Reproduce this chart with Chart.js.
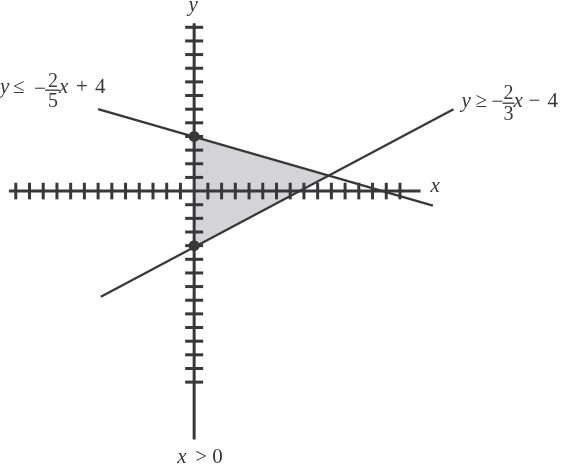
<!DOCTYPE html>
<html>
<head>
<meta charset="utf-8">
<script src="https://cdn.jsdelivr.net/npm/chart.js@4.4.1/dist/chart.umd.min.js"></script>
<style>
  html, body { margin: 0; padding: 0; background: #fff; }
  #wrap { width: 566px; height: 467px; }
</style>
</head>
<body>
<div id="wrap"><canvas id="myChart" width="566" height="467"></canvas></div>
<script>
// tick marks on each axis (one tick per unit)
const xTicks = [-13, -12, -11, -10, -9, -8, -7, -6, -5, -4, -3, -2, -1,
  1, 2, 3, 4, 5, 6, 7, 8, 9, 10, 11, 12, 13, 14, 15]
const yTicks = [-14, -13, -12, -11, -10, -9, -8, -7, -6, -5, -4, -3, -2, -1,
  1, 2, 3, 4, 5, 6, 7, 8, 9, 10, 11, 12]

// axis extents
const xAxisEnds = [-13.5, 16.5]
const yAxisEnds = [-18.2, 12.3]

// y <= -2/5x + 4 (as drawn)
const upperLineX = [-7, 17.4]
const upperLineY = [6, -1.06]
// y >= 2/3x - 4 (as drawn)
const lowerLineX = [-6.8, 18.9]
const lowerLineY = [-7.75, 6.0]

// feasible region
const shadeX = [0, 9.8, 0, 0]
const shadeY = [4, 1.14, -4.1, 4]

// intercept dots
const dotX = [0, 0]
const dotY = [4, -4]

const INK = '#383838'
const SERIF = "'Liberation Serif', 'DejaVu Serif', serif"

const pts = (xs, ys) => xs.map((x, i) => ({ x: x, y: ys[i] }))

function put(ctx, s, x, y, size, italic, align) {
  ctx.font = (italic ? 'italic ' : '') + size + 'px ' + SERIF
  ctx.textAlign = align || 'left'
  ctx.fillText(s, x, y)
}

function bar(ctx, x1, x2, y) {
  ctx.beginPath()
  ctx.moveTo(x1, y)
  ctx.lineTo(x2, y)
  ctx.stroke()
}

const mathLabels = {
  id: 'mathLabels',
  afterDatasetsDraw(chart) {
    const ctx = chart.ctx
    const xs = chart.scales.x, ys = chart.scales.y
    const ox = xs.getPixelForValue(0), oy = ys.getPixelForValue(0)
    ctx.save()
    ctx.fillStyle = INK
    ctx.strokeStyle = INK
    ctx.lineWidth = 1.3
    ctx.textBaseline = 'alphabetic'

    // axis names
    put(ctx, 'y', ox - 1, ys.getPixelForValue(yAxisEnds[1]) - 12, 21, true, 'center')
    put(ctx, 'x', xs.getPixelForValue(xAxisEnds[1]) + 10, oy + 1, 21, true)

    // x > 0 under the y axis
    const bb = ys.getPixelForValue(yAxisEnds[0]) + 24
    put(ctx, 'x', ox - 17, bb, 21, true)
    put(ctx, '>', ox + 1, bb, 21)
    put(ctx, '0', ox + 18, bb, 21)

    // label of the upper line
    let x0 = xs.getPixelForValue(upperLineX[0]) - 98
    let b = ys.getPixelForValue(upperLineY[0]) - 16
    put(ctx, 'y', x0, b, 21, true)
    put(ctx, '≤', x0 + 13, b, 21)
    put(ctx, '−', x0 + 34, b + 2, 21)
    bar(ctx, x0 + 45, x0 + 60, b - 3)
    put(ctx, '2', x0 + 53, b - 6, 20, false, 'center')
    put(ctx, '5', x0 + 53, b + 14, 20, false, 'center')
    put(ctx, 'x', x0 + 59, b, 21, true)
    put(ctx, '+', x0 + 76, b, 21)
    put(ctx, '4', x0 + 95, b, 21)

    // label of the lower line
    x0 = xs.getPixelForValue(lowerLineX[1]) + 8
    b = ys.getPixelForValue(lowerLineY[1]) - 2
    put(ctx, 'y', x0, b, 21, true)
    put(ctx, '≥', x0 + 14, b, 21)
    put(ctx, '−', x0 + 30, b + 1, 21)
    bar(ctx, x0 + 41, x0 + 53, b - 4)
    put(ctx, '2', x0 + 47, b - 8, 20, false, 'center')
    put(ctx, '3', x0 + 47, b + 13, 20, false, 'center')
    put(ctx, 'x', x0 + 52, b, 21, true)
    put(ctx, '−', x0 + 67, b, 21)
    put(ctx, '4', x0 + 86, b, 21)
    ctx.restore()
  }
}

const ctx = document.getElementById('myChart').getContext('2d')
const myChart = new Chart(ctx, {
  type: 'scatter',
  data: {
    datasets: [
      {
        // dots on the y axis
        data: pts(dotX, dotY),
        pointRadius: 5.5,
        pointBackgroundColor: INK,
        pointBorderWidth: 0,
        order: 0
      },
      {
        data: pts(upperLineX, upperLineY),
        showLine: true,
        borderColor: INK,
        borderWidth: 2.3,
        pointRadius: 0,
        order: 1
      },
      {
        data: pts(lowerLineX, lowerLineY),
        showLine: true,
        borderColor: INK,
        borderWidth: 2.3,
        pointRadius: 0,
        order: 1
      },
      {
        // ticks on y axis
        data: yTicks.map(v => ({ x: 0, y: v })),
        pointStyle: 'line',
        pointRadius: 9,
        pointBorderWidth: 3,
        pointBorderColor: INK,
        order: 2
      },
      {
        // ticks on x axis
        data: xTicks.map(v => ({ x: v, y: 0 })),
        pointStyle: 'line',
        pointRotation: 90,
        pointRadius: 8.3,
        pointBorderWidth: 3,
        pointBorderColor: INK,
        order: 2
      },
      {
        data: xAxisEnds.map(v => ({ x: v, y: 0 })),
        showLine: true,
        borderColor: INK,
        borderWidth: 3,
        pointRadius: 0,
        order: 3
      },
      {
        data: yAxisEnds.map(v => ({ x: 0, y: v })),
        showLine: true,
        borderColor: INK,
        borderWidth: 3,
        pointRadius: 0,
        order: 3
      },
      {
        data: pts(shadeX, shadeY),
        showLine: true,
        borderWidth: 0,
        borderColor: 'rgba(0,0,0,0)',
        backgroundColor: '#d4d4d6',
        fill: 'shape',
        pointRadius: 0,
        order: 4
      }
    ]
  },
  options: {
    responsive: false,
    animation: false,
    layout: { padding: 0, autoPadding: false },
    plugins: {
      legend: { display: false },
      tooltip: { enabled: false }
    },
    scales: {
      x: { type: 'linear', min: -14.15, max: 27.1, display: false },
      y: { type: 'linear', min: -20.22, max: 14.0, display: false }
    }
  },
  plugins: [mathLabels]
})
</script>
</body>
</html>
